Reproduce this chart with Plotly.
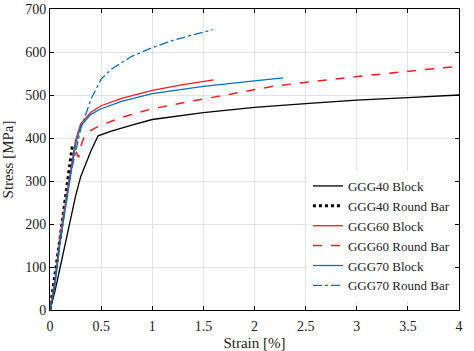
import plotly.graph_objects as go

# GGG40 Block
g40b_x = [0, 0.05, 0.1, 0.2, 0.25, 0.3, 0.4, 0.47, 0.6, 0.8, 1.0, 1.5, 2.0, 2.5, 3.0, 3.5, 4.0]
g40b_y = [0, 45, 100, 210, 265, 310, 370, 405, 416, 430, 443, 459, 471, 480, 488, 494, 500]
# GGG40 Round Bar
g40r_x = [0, 0.05, 0.1, 0.15, 0.2, 0.22]
g40r_y = [0, 80, 170, 260, 350, 385]
# GGG60 Block
g60b_x = [0, 0.05, 0.1, 0.2, 0.25, 0.3, 0.4, 0.5, 0.7, 1.0, 1.3, 1.6]
g60b_y = [0, 70, 175, 325, 395, 433, 460, 475, 492, 511, 524, 535]
# GGG60 Round Bar
g60r_x = [0, 0.05, 0.1, 0.2, 0.25, 0.28, 0.3, 0.33, 0.4, 0.5, 0.7, 1.0, 1.3, 1.6, 2.2, 3.0, 3.5, 4.0]
g60r_y = [0, 70, 170, 320, 370, 355, 380, 400, 418, 430, 448, 468, 482, 495, 521, 543, 555, 567]
# GGG70 Block
g70b_x = [0, 0.05, 0.1, 0.2, 0.25, 0.3, 0.4, 0.5, 0.7, 1.0, 1.5, 2.0, 2.28]
g70b_y = [0, 60, 160, 310, 385, 428, 455, 468, 485, 503, 520, 533, 540]
# GGG70 Round Bar
g70r_x = [0, 0.05, 0.1, 0.2, 0.3, 0.4, 0.5, 0.6, 0.8, 1.0, 1.2, 1.4, 1.59]
g70r_y = [0, 65, 165, 315, 420, 490, 537, 560, 590, 610, 627, 640, 652]

x_ticks = [0, 0.5, 1, 1.5, 2, 2.5, 3, 3.5, 4]
x_labels = ["0", "0.5", "1", "1.5", "2", "2.5", "3", "3.5", "4"]
y_ticks = [0, 100, 200, 300, 400, 500, 600, 700]

RED = "#FF1A1A"
BLUE = "#0072BD"
SERIF = "Liberation Serif, Times New Roman, serif"

fig = go.Figure()
fig.add_trace(go.Scatter(x=g40b_x, y=g40b_y, mode="lines", name="GGG40 Block",
                         line=dict(color="black", width=1.3)))
fig.add_trace(go.Scatter(x=g40r_x, y=g40r_y, mode="lines", name="GGG40 Round Bar",
                         line=dict(color="black", width=3, dash="dot")))
fig.add_trace(go.Scatter(x=g60b_x, y=g60b_y, mode="lines", name="GGG60 Block",
                         line=dict(color=RED, width=1.3)))
fig.add_trace(go.Scatter(x=g60r_x, y=g60r_y, mode="lines", name="GGG60 Round Bar",
                         line=dict(color=RED, width=1.5, dash="dash")))
fig.add_trace(go.Scatter(x=g70b_x, y=g70b_y, mode="lines", name="GGG70 Block",
                         line=dict(color=BLUE, width=1.3)))
fig.add_trace(go.Scatter(x=g70r_x, y=g70r_y, mode="lines", name="GGG70 Round Bar",
                         line=dict(color=BLUE, width=1.3, dash="dashdot")))

axis_common = dict(showline=True, linecolor="black", linewidth=1, mirror="ticks",
                   ticks="inside", ticklen=4, tickcolor="black",
                   showgrid=True, gridcolor="#E3E3E3", gridwidth=1, zeroline=False,
                   automargin=False,
                   tickfont=dict(family=SERIF, size=14, color="#222"))

fig.update_layout(
    width=474, height=351,
    margin=dict(l=50, r=15, t=9, b=41),
    paper_bgcolor="white", plot_bgcolor="white",
    font=dict(family=SERIF, size=14, color="#222"),
    xaxis=dict(range=[0, 4], tickvals=x_ticks, ticktext=x_labels, ticklabelstandoff=3,
               title=dict(text="Strain [%]", font=dict(family=SERIF, size=15)),
               **axis_common),
    yaxis=dict(range=[0, 700], tickvals=y_ticks,
               title=dict(text="Stress [MPa]", font=dict(family=SERIF, size=15)),
               **axis_common),
    legend=dict(x=0.99, y=0.03, xanchor="right", yanchor="bottom",
                bgcolor="white", borderwidth=0,
                font=dict(family=SERIF, size=13, color="#222"),
                tracegroupgap=0, itemwidth=30),
    showlegend=True,
)

fig.write_html("out.html")
